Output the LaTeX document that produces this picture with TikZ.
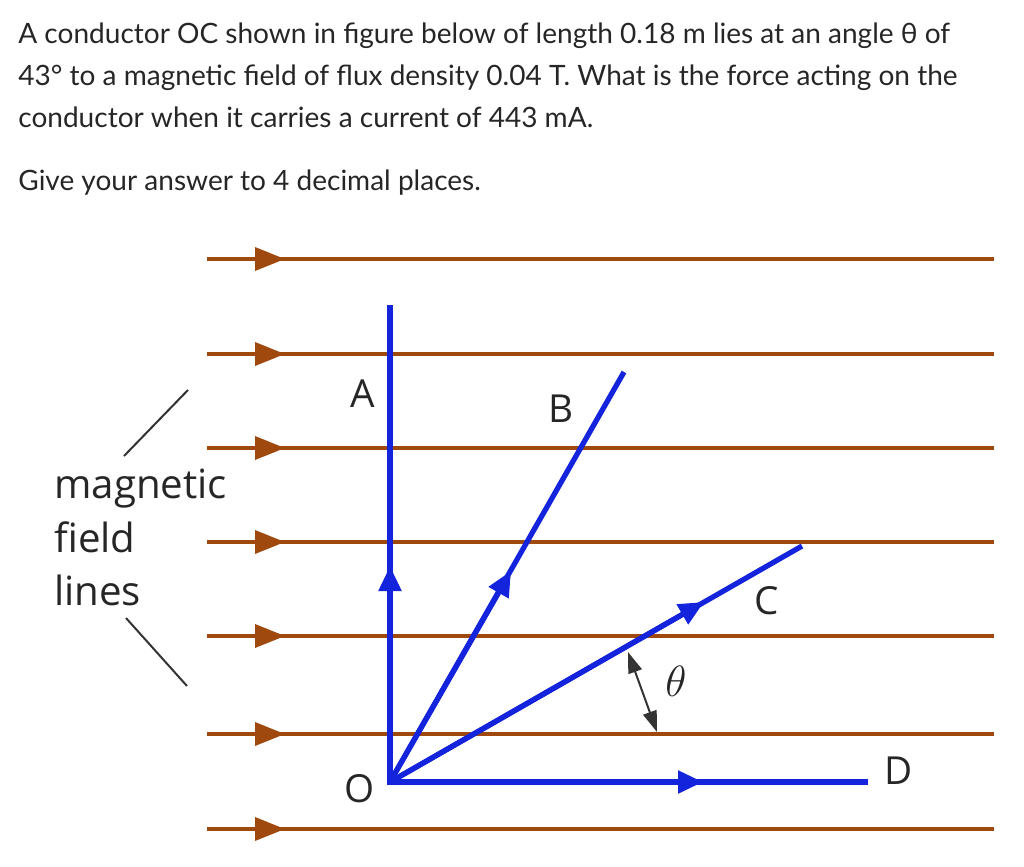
\documentclass[tikz,border=0pt]{standalone}
\usepackage{fontspec}
\setmainfont{Lato}
\newfontfamily\labelfont{Open Sans}
\usetikzlibrary{arrows.meta,bending}
\definecolor{fieldbrown}{HTML}{A0490F}
\definecolor{wireblue}{HTML}{1424DC}
\definecolor{leadgrey}{HTML}{333333}
\tikzset{
  fieldline/.style={draw=fieldbrown,line width=0.07cm},
  fieldtip/.style={fieldline,-{Triangle[length=0.6cm,width=0.46cm]}},
  wire/.style={draw=wireblue,line width=0.105cm},
  wiretip/.style={wire,-{Triangle[length=0.5cm,width=0.44cm]}},
  leader/.style={draw=leadgrey,line width=0.04cm},
  bodytext/.style={anchor=base west,inner sep=0,font=\fontsize{15.95}{18}\selectfont,text=black!85},
  figlabel/.style={inner sep=0,font=\labelfont\fontsize{22}{25}\selectfont,text=black!85},
  sidetext/.style={inner sep=0,anchor=base west,font=\labelfont\fontsize{22.9}{25}\selectfont,text=black!85}
}
\begin{document}
\begin{tikzpicture}[x=0.02cm,y=-0.02cm]
\useasboundingbox (0,0) rectangle (1024,866);
\node[bodytext] (line1) at (18,43) {A conductor OC shown in figure below of length 0.18 m lies at an angle θ of};
\node[bodytext] (line2) at (18,85) {43° to a magnetic field of flux density 0.04 T. What is the force acting on the};
\node[bodytext] (line3) at (18,127) {conductor when it carries a current of 443 mA.};
\node[bodytext] (line4) at (18,190) {Give your answer to 4 decimal places.};
% field lines
\coordinate (f1) at (207,259); \coordinate (f1tip) at (285,259); \coordinate (f1end) at (994,259);
\coordinate (f2) at (207,354); \coordinate (f2tip) at (285,354); \coordinate (f2end) at (994,354);
\coordinate (f3) at (207,448); \coordinate (f3tip) at (285,448); \coordinate (f3end) at (994,448);
\coordinate (f4) at (207,542); \coordinate (f4tip) at (285,542); \coordinate (f4end) at (994,542);
\coordinate (f5) at (207,636); \coordinate (f5tip) at (285,636); \coordinate (f5end) at (994,636);
\coordinate (f6) at (207,734); \coordinate (f6tip) at (285,734); \coordinate (f6end) at (994,734);
\coordinate (f7) at (207,829); \coordinate (f7tip) at (285,829); \coordinate (f7end) at (994,829);
\draw[fieldline] (f1) -- (f1end);
\draw[fieldline] (f2) -- (f2end);
\draw[fieldline] (f3) -- (f3end);
\draw[fieldline] (f4) -- (f4end);
\draw[fieldline] (f5) -- (f5end);
\draw[fieldline] (f6) -- (f6end);
\draw[fieldline] (f7) -- (f7end);
\draw[fieldtip] (f1) -- (f1tip);
\draw[fieldtip] (f2) -- (f2tip);
\draw[fieldtip] (f3) -- (f3tip);
\draw[fieldtip] (f4) -- (f4tip);
\draw[fieldtip] (f5) -- (f5tip);
\draw[fieldtip] (f6) -- (f6tip);
\draw[fieldtip] (f7) -- (f7tip);
% conductors
\coordinate (o) at (390,782);
\coordinate (a) at (390,308); \coordinate (atip) at (390,566);
\coordinate (b) at (624,372); \coordinate (btip) at (511,571);
\coordinate (c) at (802,546); \coordinate (ctip) at (704,602);
\coordinate (d) at (865,782); \coordinate (dtip) at (703,782);
\draw[wire,line cap=rect] (o) -- (a);
\draw[wire] (o) -- (b);
\draw[wire] (o) -- (c);
\draw[wire,line cap=rect] (o) -- (d);
\draw[wiretip] (o) -- (atip);
\draw[wiretip] (o) -- (btip);
\draw[wiretip] (o) -- (ctip);
\draw[wiretip] (o) -- (dtip);
% labels
\node[figlabel] (la) at (363,394) {A};
\node[figlabel] (lb) at (561,409) {B};
\node[figlabel] (lc) at (767,601) {C};
\node[figlabel] (ld) at (899,771) {D};
\node[figlabel] (lo) at (360,789) {O};
\node[figlabel,font=\fontsize{27}{30}\selectfont] (ltheta) at (676,681) {$\theta$};
% angle arrow
\coordinate (th1) at (628,652);
\coordinate (th2) at (657,732);
\draw[leader,{Triangle[length=0.42cm,width=0.28cm,fill=leadgrey]}-{Triangle[length=0.42cm,width=0.28cm,fill=leadgrey]}] (th1) -- (th2);
% side text
\node[sidetext] (t1) at (54,498) {magnetic};
\node[sidetext] (t2) at (54,552) {field};
\node[sidetext] (t3) at (54,605) {lines};
\coordinate (p1) at (188,390);
\coordinate (p2) at (124,456);
\coordinate (p3) at (126,618);
\coordinate (p4) at (187,686);
\draw[leader] (p1) -- (p2);
\draw[leader] (p3) -- (p4);
\end{tikzpicture}
\end{document}
